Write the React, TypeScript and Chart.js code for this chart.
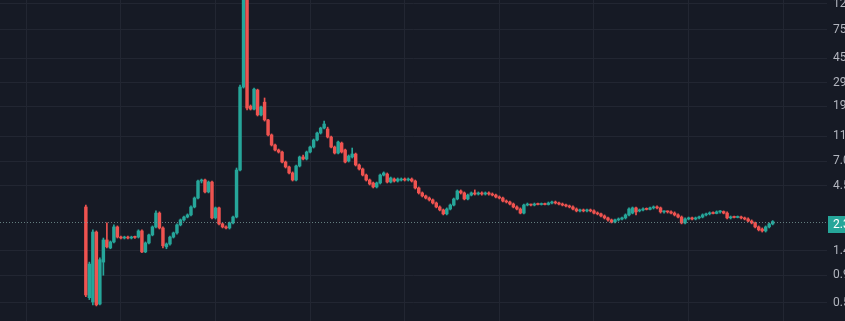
import React, { useEffect, useRef } from 'react';
import { Chart, registerables } from 'chart.js';

Chart.register(...registerables);

// ---- data ----
const leadingEmpty = 24;
const trailingEmpty = 15;

const opens = [
  3.08, 0.60, 0.555, 1.96, 0.535, 1.14, 1.70, 1.47, 1.64, 2.15,
  1.79, 1.76, 1.79, 1.76, 1.79, 1.79, 2.00, 1.37, 1.61, 1.86,
  2.15, 2.76, 2.11, 1.50, 1.58, 1.79, 1.93, 2.23, 2.44, 2.57,
  2.67, 3.08, 3.62, 4.92, 5.01, 4.04, 4.83, 2.53, 3.03, 2.27,
  2.15, 2.11, 2.31, 2.57, 6.00, 26.8, 141, 19.0, 18.0, 25.4,
  16.2, 20.4, 14.8, 11.3, 9.42, 8.61, 8.30, 6.93, 6.34, 5.69,
  5.01, 6.45, 7.59, 7.32, 8.30, 9.08, 10.31, 11.69, 12.79, 12.57,
  10.88, 9.08, 8.15, 9.76, 8.61, 7.06, 7.59, 8.01, 6.57, 6.11,
  5.48, 5.01, 4.75, 4.42, 4.75, 5.48, 5.58, 4.83, 5.10, 4.92,
  5.01, 5.10, 5.01, 5.10, 4.92, 4.34, 3.97, 3.76, 3.62, 3.50,
  3.31, 3.08, 2.92, 2.72, 2.97, 3.19, 3.56, 4.11, 3.97, 3.56,
  3.82, 3.97, 3.89, 3.97, 3.89, 3.97, 3.89, 3.82, 3.69, 3.62,
  3.43, 3.37, 3.25, 3.08, 2.97, 2.76, 3.19, 3.22, 3.19, 3.25,
  3.22, 3.25, 3.22, 3.31, 3.37, 3.31, 3.25, 3.19, 3.14, 3.08,
  2.97, 2.87, 2.92, 2.87, 2.92, 2.87, 2.76, 2.72, 2.62, 2.53,
  2.44, 2.35, 2.44, 2.48, 2.53, 2.67, 2.76, 3.03, 2.87, 2.92,
  2.97, 2.95, 3.03, 3.08, 3.03, 2.82, 2.84, 2.82, 2.76, 2.67,
  2.57, 2.31, 2.48, 2.53, 2.48, 2.53, 2.57, 2.67, 2.72, 2.76,
  2.74, 2.82, 2.84, 2.76, 2.53, 2.57, 2.55, 2.57, 2.53, 2.48,
  2.39, 2.31, 2.15, 2.07, 2.00, 2.15, 2.27,
];

const highs = [
  3.19, 1.14, 2.04, 2.00, 1.23, 1.76, 2.31, 1.67, 2.23, 2.19,
  1.82, 1.82, 1.82, 1.82, 1.82, 2.04, 2.04, 1.64, 1.89, 2.19,
  2.87, 2.82, 2.15, 1.61, 1.82, 1.96, 2.27, 2.48, 2.62, 2.72,
  3.14, 3.69, 5.01, 5.10, 5.10, 4.92, 4.92, 3.08, 3.08, 2.31,
  2.19, 2.35, 2.62, 6.22, 27.8, 220, 210, 19.4, 26.3, 25.8,
  19.0, 22.0, 15.0, 11.5, 9.59, 8.76, 8.45, 7.06, 6.45, 5.80,
  6.57, 7.72, 7.87, 8.45, 9.25, 10.5, 11.9, 13.0, 14.52, 13.0,
  11.08, 9.25, 10.12, 9.94, 8.76, 7.87, 8.92, 8.15, 6.69, 6.22,
  5.58, 5.10, 4.83, 4.83, 5.58, 5.80, 5.69, 5.29, 5.20, 5.20,
  5.20, 5.20, 5.20, 5.20, 5.01, 4.42, 4.04, 3.82, 3.69, 3.56,
  3.37, 3.14, 2.97, 3.03, 3.25, 3.62, 4.19, 4.19, 4.04, 3.89,
  4.04, 4.19, 4.04, 4.04, 4.04, 4.04, 3.97, 3.89, 3.76, 3.69,
  3.50, 3.43, 3.31, 3.14, 3.03, 3.25, 3.31, 3.25, 3.31, 3.31,
  3.31, 3.31, 3.37, 3.43, 3.43, 3.37, 3.31, 3.25, 3.19, 3.14,
  3.03, 2.97, 2.97, 2.97, 2.97, 2.92, 2.82, 2.76, 2.67, 2.57,
  2.48, 2.48, 2.53, 2.57, 2.72, 3.03, 3.08, 3.08, 2.97, 3.03,
  3.03, 3.08, 3.14, 3.14, 3.08, 2.87, 2.87, 2.87, 2.82, 2.72,
  2.62, 2.53, 2.57, 2.57, 2.57, 2.62, 2.72, 2.76, 2.82, 2.82,
  2.87, 2.89, 2.87, 2.82, 2.62, 2.62, 2.62, 2.62, 2.57, 2.53,
  2.44, 2.35, 2.19, 2.11, 2.19, 2.31, 2.41,
];

const lows = [
  0.61, 0.58, 0.527, 0.517, 0.527, 0.90, 1.47, 1.45, 1.61, 1.76,
  1.73, 1.73, 1.73, 1.73, 1.75, 1.76, 1.35, 1.35, 1.58, 1.83,
  2.11, 2.07, 1.47, 1.45, 1.55, 1.76, 1.89, 2.19, 2.39, 2.53,
  2.62, 3.03, 3.56, 4.75, 3.97, 3.97, 2.48, 2.48, 2.23, 2.11,
  2.07, 2.07, 2.27, 2.53, 5.89, 26.3, 17.7, 17.7, 17.7, 15.9,
  15.9, 14.5, 11.1, 9.25, 8.45, 8.15, 6.81, 6.22, 5.58, 4.92,
  4.92, 6.34, 7.19, 7.19, 8.15, 8.92, 10.12, 11.48, 12.57, 10.69,
  8.92, 8.01, 8.01, 8.15, 6.81, 6.93, 7.45, 6.45, 6.00, 5.39,
  4.92, 4.58, 4.34, 4.34, 4.66, 5.39, 4.75, 4.75, 4.83, 4.83,
  4.92, 4.92, 4.92, 4.83, 4.26, 3.89, 3.69, 3.56, 3.43, 3.25,
  3.03, 2.87, 2.67, 2.67, 2.92, 3.14, 3.50, 3.89, 3.50, 3.50,
  3.76, 3.82, 3.82, 3.82, 3.82, 3.82, 3.76, 3.62, 3.56, 3.37,
  3.31, 3.19, 3.03, 2.92, 2.72, 2.72, 3.14, 3.14, 3.14, 3.19,
  3.19, 3.19, 3.19, 3.25, 3.25, 3.19, 3.14, 3.08, 3.03, 2.92,
  2.82, 2.82, 2.82, 2.82, 2.82, 2.72, 2.67, 2.57, 2.48, 2.39,
  2.31, 2.31, 2.39, 2.44, 2.48, 2.62, 2.72, 2.67, 2.82, 2.87,
  2.92, 2.92, 2.97, 2.97, 2.76, 2.76, 2.76, 2.72, 2.62, 2.53,
  2.27, 2.27, 2.44, 2.44, 2.44, 2.48, 2.53, 2.62, 2.67, 2.72,
  2.72, 2.76, 2.72, 2.48, 2.48, 2.53, 2.53, 2.48, 2.44, 2.35,
  2.27, 2.11, 2.00, 1.96, 1.96, 2.11, 2.23,
];

const closes = [
  0.63, 1.10, 1.96, 0.527, 1.19, 1.70, 1.50, 1.64, 2.15, 1.79,
  1.76, 1.79, 1.76, 1.79, 1.78, 2.00, 1.37, 1.61, 1.86, 2.15,
  2.76, 2.11, 1.53, 1.58, 1.79, 1.93, 2.23, 2.44, 2.57, 2.67,
  3.08, 3.62, 4.92, 5.01, 4.04, 4.83, 2.53, 3.03, 2.27, 2.15,
  2.11, 2.31, 2.57, 6.00, 26.8, 141, 18.35, 18.0, 25.8, 16.2,
  18.7, 14.8, 11.3, 9.42, 8.61, 8.30, 6.93, 6.34, 5.69, 5.01,
  6.45, 7.59, 7.32, 8.30, 9.08, 10.31, 11.69, 12.79, 13.75, 10.88,
  9.08, 8.15, 9.94, 8.30, 6.93, 7.72, 8.01, 6.57, 6.11, 5.48,
  5.01, 4.66, 4.42, 4.75, 5.48, 5.69, 4.83, 5.20, 4.92, 5.10,
  5.10, 5.01, 5.10, 4.92, 4.34, 3.97, 3.76, 3.62, 3.50, 3.31,
  3.08, 2.92, 2.72, 2.97, 3.19, 3.56, 4.11, 3.97, 3.56, 3.82,
  3.97, 3.89, 3.97, 3.89, 3.97, 3.89, 3.82, 3.69, 3.62, 3.43,
  3.37, 3.25, 3.08, 2.97, 2.76, 3.19, 3.22, 3.19, 3.25, 3.22,
  3.25, 3.22, 3.31, 3.37, 3.31, 3.25, 3.19, 3.14, 3.08, 2.97,
  2.87, 2.92, 2.87, 2.92, 2.87, 2.76, 2.72, 2.62, 2.53, 2.44,
  2.35, 2.44, 2.48, 2.53, 2.67, 2.97, 3.03, 2.82, 2.92, 2.97,
  2.95, 3.03, 3.08, 3.03, 2.82, 2.84, 2.82, 2.76, 2.67, 2.57,
  2.31, 2.48, 2.53, 2.48, 2.53, 2.57, 2.67, 2.72, 2.76, 2.74,
  2.82, 2.84, 2.76, 2.53, 2.57, 2.55, 2.57, 2.53, 2.48, 2.39,
  2.31, 2.15, 2.04, 2.00, 2.15, 2.27, 2.37,
];

const yTickValues = [120, 75, 45, 29, 19, 11, 7.0, 4.5, 1.4, 0.9, 0.55];
const yTickLabels = ['120', '75', '45', '29', '19', '11', '7.0', '4.5', '1.4', '0.9', '0.55'];
const timeGridSlots = [7, 34, 61, 88, 115, 142, 169, 196, 223];
const yMin = 0.394;
const yMax = 128.8;
const lastPrice = closes[closes.length - 1];
const lastPriceLabel = '2.37';

// ---- styles ----
const BG = '#161a25';
const GRID = '#222632';
const TXT = '#b2b5be';
const UP = '#26a69a';
const DOWN = '#ef5350';
const CANVAS_W = 875;
const CANVAS_H = 321;
const PLOT_RIGHT = 827;

const totalSlots = leadingEmpty + opens.length + trailingEmpty;
const categories = Array.from({ length: totalSlots }, (_, i) => 'w' + i);
const pad = (n: number) => Array.from({ length: n }, () => null);

const bodyData = [...pad(leadingEmpty), ...opens.map((o, i) => [o, closes[i]]), ...pad(trailingEmpty)];
const wickData = [...pad(leadingEmpty), ...lows.map((l, i) => [l, highs[i]]), ...pad(trailingEmpty)];
const colors = [
  ...pad(leadingEmpty).map(() => UP),
  ...opens.map((o, i) => (closes[i] >= o ? UP : DOWN)),
  ...pad(trailingEmpty).map(() => UP),
];

const bgPlugin = {
  id: 'bgFill',
  beforeDraw(chart: any) {
    const { ctx, width, height } = chart;
    ctx.save();
    ctx.fillStyle = BG;
    ctx.fillRect(0, 0, width, height);
    ctx.restore();
  },
};

const pricePlugin = {
  id: 'priceLine',
  afterDatasetsDraw(chart: any) {
    const { ctx, chartArea } = chart;
    const y = Math.round(chart.scales.y.getPixelForValue(lastPrice)) + 0.5;
    ctx.save();
    ctx.strokeStyle = 'rgba(120,150,150,0.8)';
    ctx.lineWidth = 1;
    ctx.setLineDash([1, 2]);
    ctx.beginPath();
    ctx.moveTo(chartArea.left, y);
    ctx.lineTo(chartArea.right, y);
    ctx.stroke();
    ctx.restore();
  },
  afterDraw(chart: any) {
    const { ctx, chartArea } = chart;
    const y = Math.round(chart.scales.y.getPixelForValue(lastPrice)) + 2;
    ctx.save();
    ctx.fillStyle = UP;
    ctx.fillRect(chartArea.right + 1, y - 8, 60, 17);
    ctx.fillStyle = '#ffffff';
    ctx.font = '12px Roboto';
    ctx.textBaseline = 'middle';
    ctx.textAlign = 'left';
    ctx.fillText(lastPriceLabel, chartArea.right + 6, y + 1);
    ctx.restore();
  },
};

export default function App() {
  const ref = useRef<HTMLCanvasElement>(null);

  useEffect(() => {
    document.body.style.margin = '0';
    document.body.style.background = BG;
    const canvas = ref.current;
    if (!canvas) return;
    const chart = new Chart(canvas, {
      type: 'bar',
      data: {
        labels: categories,
        datasets: [
          {
            label: 'body',
            data: bodyData as any,
            backgroundColor: colors,
            borderWidth: 0,
            barThickness: 2.8,
            minBarLength: 1,
            grouped: false,
            order: 0,
          } as any,
          {
            label: 'wick',
            data: wickData as any,
            backgroundColor: colors,
            borderWidth: 0,
            barThickness: 1,
            minBarLength: 1,
            grouped: false,
            order: 1,
          } as any,
        ],
      },
      options: {
        animation: false,
        responsive: false,
        devicePixelRatio: 1,
        layout: { padding: 0 },
        plugins: {
          legend: { display: false },
          tooltip: { enabled: false },
        },
        scales: {
          x: {
            type: 'category',
            offset: true,
            grid: {
              offset: false,
              drawTicks: false,
              color: (c: any) => (timeGridSlots.includes(c.index) ? GRID : 'rgba(0,0,0,0)'),
            },
            border: { display: false },
            ticks: { display: false, autoSkip: false },
          },
          y: {
            type: 'logarithmic',
            position: 'right',
            min: yMin,
            max: yMax,
            afterBuildTicks: (s: any) => {
              s.ticks = yTickValues.map((v) => ({ value: v }));
            },
            afterFit: (s: any) => {
              s.width = CANVAS_W - PLOT_RIGHT;
              s.paddingTop = 0;
              s.paddingBottom = 0;
            },
            grid: { color: GRID, drawTicks: false },
            border: { display: false },
            ticks: {
              color: TXT,
              padding: 6,
              autoSkip: false,
              font: { family: 'Roboto', size: 12 },
              callback: (v: any) => {
                const k = yTickValues.indexOf(Number(v));
                return k >= 0 ? yTickLabels[k] : '';
              },
            },
          },
        },
      },
      plugins: [bgPlugin, pricePlugin],
    });
    return () => chart.destroy();
  }, []);

  return (
    <div style={{ width: 845, height: 321, overflow: 'hidden', background: BG }}>
      <canvas ref={ref} width={CANVAS_W} height={CANVAS_H} style={{ width: CANVAS_W, height: CANVAS_H, display: 'block' }} />
    </div>
  );
}
